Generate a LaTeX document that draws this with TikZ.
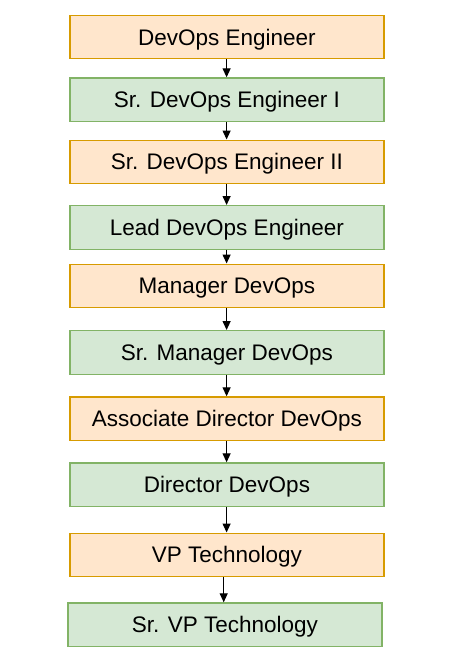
\documentclass[tikz,border=0pt]{standalone}
\usepackage{fontspec}
\setmainfont{Liberation Sans}
\usetikzlibrary{arrows.meta}
\definecolor{ofill}{HTML}{FFE6CC}
\definecolor{odraw}{HTML}{D79B00}
\definecolor{gfill}{HTML}{D5E8D4}
\definecolor{gdraw}{HTML}{82B366}
\tikzset{
  rolebox/.style={draw, line width=1.2pt, minimum width=314pt, minimum height=43.5pt, inner sep=0pt, text height=16.1pt, text depth=0pt, font=\fontsize{22.5}{26}\selectfont, anchor=north west},
  obox/.style={rolebox, fill=ofill, draw=odraw},
  gbox/.style={rolebox, fill=gfill, draw=gdraw},
  conn/.style={-{Triangle[length=9pt,width=8pt]}, line width=1.2pt, black}
}
\begin{document}
\begin{tikzpicture}[x=1pt,y=-1pt]
\useasboundingbox[fill=white] (0,0) rectangle (456,670);
\node[obox] (n1) at (69.3,14.7) {DevOps Engineer};
\node[gbox] (n2) at (69.3,77.3) {Sr. DevOps Engineer I};
\node[obox] (n3) at (69.3,139.5) {Sr. DevOps Engineer II};
\node[gbox] (n4) at (69.3,205) {Lead DevOps Engineer};
\node[obox] (n5) at (69.3,263.5) {Manager DevOps};
\node[gbox] (n6) at (69.3,330) {Sr. Manager DevOps};
\node[obox] (n7) at (69.3,396.3) {Associate Director DevOps};
\node[gbox] (n8) at (69.3,462.3) {Director DevOps};
\node[obox] (n9) at (69.3,532.5) {VP Technology};
\node[gbox] (n10) at (67.3,602.3) {Sr. VP Technology};
\foreach \a/\b in {n1/n2,n2/n3,n3/n4,n4/n5,n5/n6,n6/n7,n7/n8,n8/n9}
  \draw[conn] ([xshift=-0.3pt]\a.south) -- ([xshift=-0.3pt]\b.north);
\draw[conn] ([xshift=-3.2pt]n9.south) -- ([xshift=-1.2pt]n10.north);
\end{tikzpicture}
\end{document}
